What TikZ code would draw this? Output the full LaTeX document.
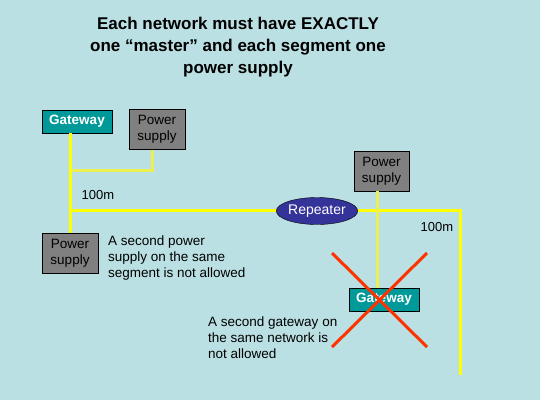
\documentclass[tikz,border=0pt]{standalone}
\usepackage{fontspec}
\setmainfont{Liberation Sans}
\usetikzlibrary{shapes.geometric}

\definecolor{bgblue}{RGB}{187,224,227}
\definecolor{gwteal}{RGB}{0,153,153}
\definecolor{psgray}{RGB}{128,128,128}
\definecolor{repblue}{RGB}{51,51,153}
\definecolor{cableyel}{RGB}{255,255,0}
\definecolor{branchyel}{RGB}{235,240,80}
\definecolor{crossred}{RGB}{255,51,0}

\begin{document}
\begin{tikzpicture}[x=1pt,y=-1pt,
		gateway/.style={draw=black, fill=gwteal, text=white, inner sep=0pt,
			minimum width=70pt, minimum height=23pt,
			font=\fontsize{13.5}{15}\selectfont\bfseries},
		supply/.style={draw=black, fill=psgray, text=black, inner sep=0pt, align=center,
			minimum width=56pt, minimum height=40pt,
			font=\fontsize{13.5}{16.5}\selectfont},
		repeater/.style={ellipse, draw=black, fill=repblue, text=white, inner sep=0pt,
			minimum width=65pt, minimum height=27pt,
			font=\fontsize{14}{15}\selectfont},
		note/.style={anchor=north west, align=left, inner sep=0pt,
			font=\fontsize{13.5}{16}\selectfont},
		cable/.style={draw=cableyel, line width=3pt},
		branch/.style={draw=branchyel, line width=3pt},
		cross/.style={draw=crossred, line width=3pt}]
		\fill[bgblue] (0,0) rectangle (540,400);
		\useasboundingbox (0,0) rectangle (540,400);
		% heading
		\node[align=center, inner sep=0pt, anchor=north, font=\fontsize{17}{22}\selectfont\bfseries]
			(title) at (238,17) {Each network must have EXACTLY\\one “master” and each segment one\\power supply};
		% devices
		\node[gateway] (gw1) at (77,121.5) {Gateway};
		\node[supply] (ps1) at (157,129.5) {Power\\supply};
		\node[supply] (ps2) at (70,253) {Power\\supply};
		\node[supply, minimum width=55pt] (ps3) at (381.5,171) {Power\\supply};
		\node[gateway] (gw2) at (384,299.5) {Gateway};
		% junctions
		\coordinate (j0) at (152,170);
		\coordinate (j1) at (70,170);
		\coordinate (j2) at (70,210);
		\coordinate (j3) at (377,210);
		\coordinate (ec) at (460,210);
		\coordinate (ee) at (460,375);
		% cables
		\draw[branch] (ps1.south -| j0) -- (j0) -- (j1);
		\draw[cable] (gw1.south -| j1) -- (ps2.north);
		\draw[cable] (j2) -- (ec) -- (ee);
		\draw[branch] (ps3.south -| j3) -- (gw2.north -| j3);
		\node[repeater] (rep) at (317,211) {Repeater};
		\node[gateway] at (gw2) {Gateway};
		% lengths
		\node[font=\fontsize{13}{14}\selectfont] (len1) at (98,195) {100m};
		\node[font=\fontsize{13}{14}\selectfont] (len2) at (437,227) {100m};
		% remarks
		\node[note] (n1) at (108,236) {A second power\\supply on the same\\segment is not allowed};
		\node[note] (n2) at (208,317) {A second gateway on\\the same network is\\not allowed};
		% crossed out
		\coordinate (x1) at (332,253);
		\coordinate (x2) at (427,347);
		\coordinate (x3) at (427,253);
		\coordinate (x4) at (332,347);
		\draw[cross] (x1) -- (x2);
		\draw[cross] (x3) -- (x4);
	\end{tikzpicture}
\end{document}
